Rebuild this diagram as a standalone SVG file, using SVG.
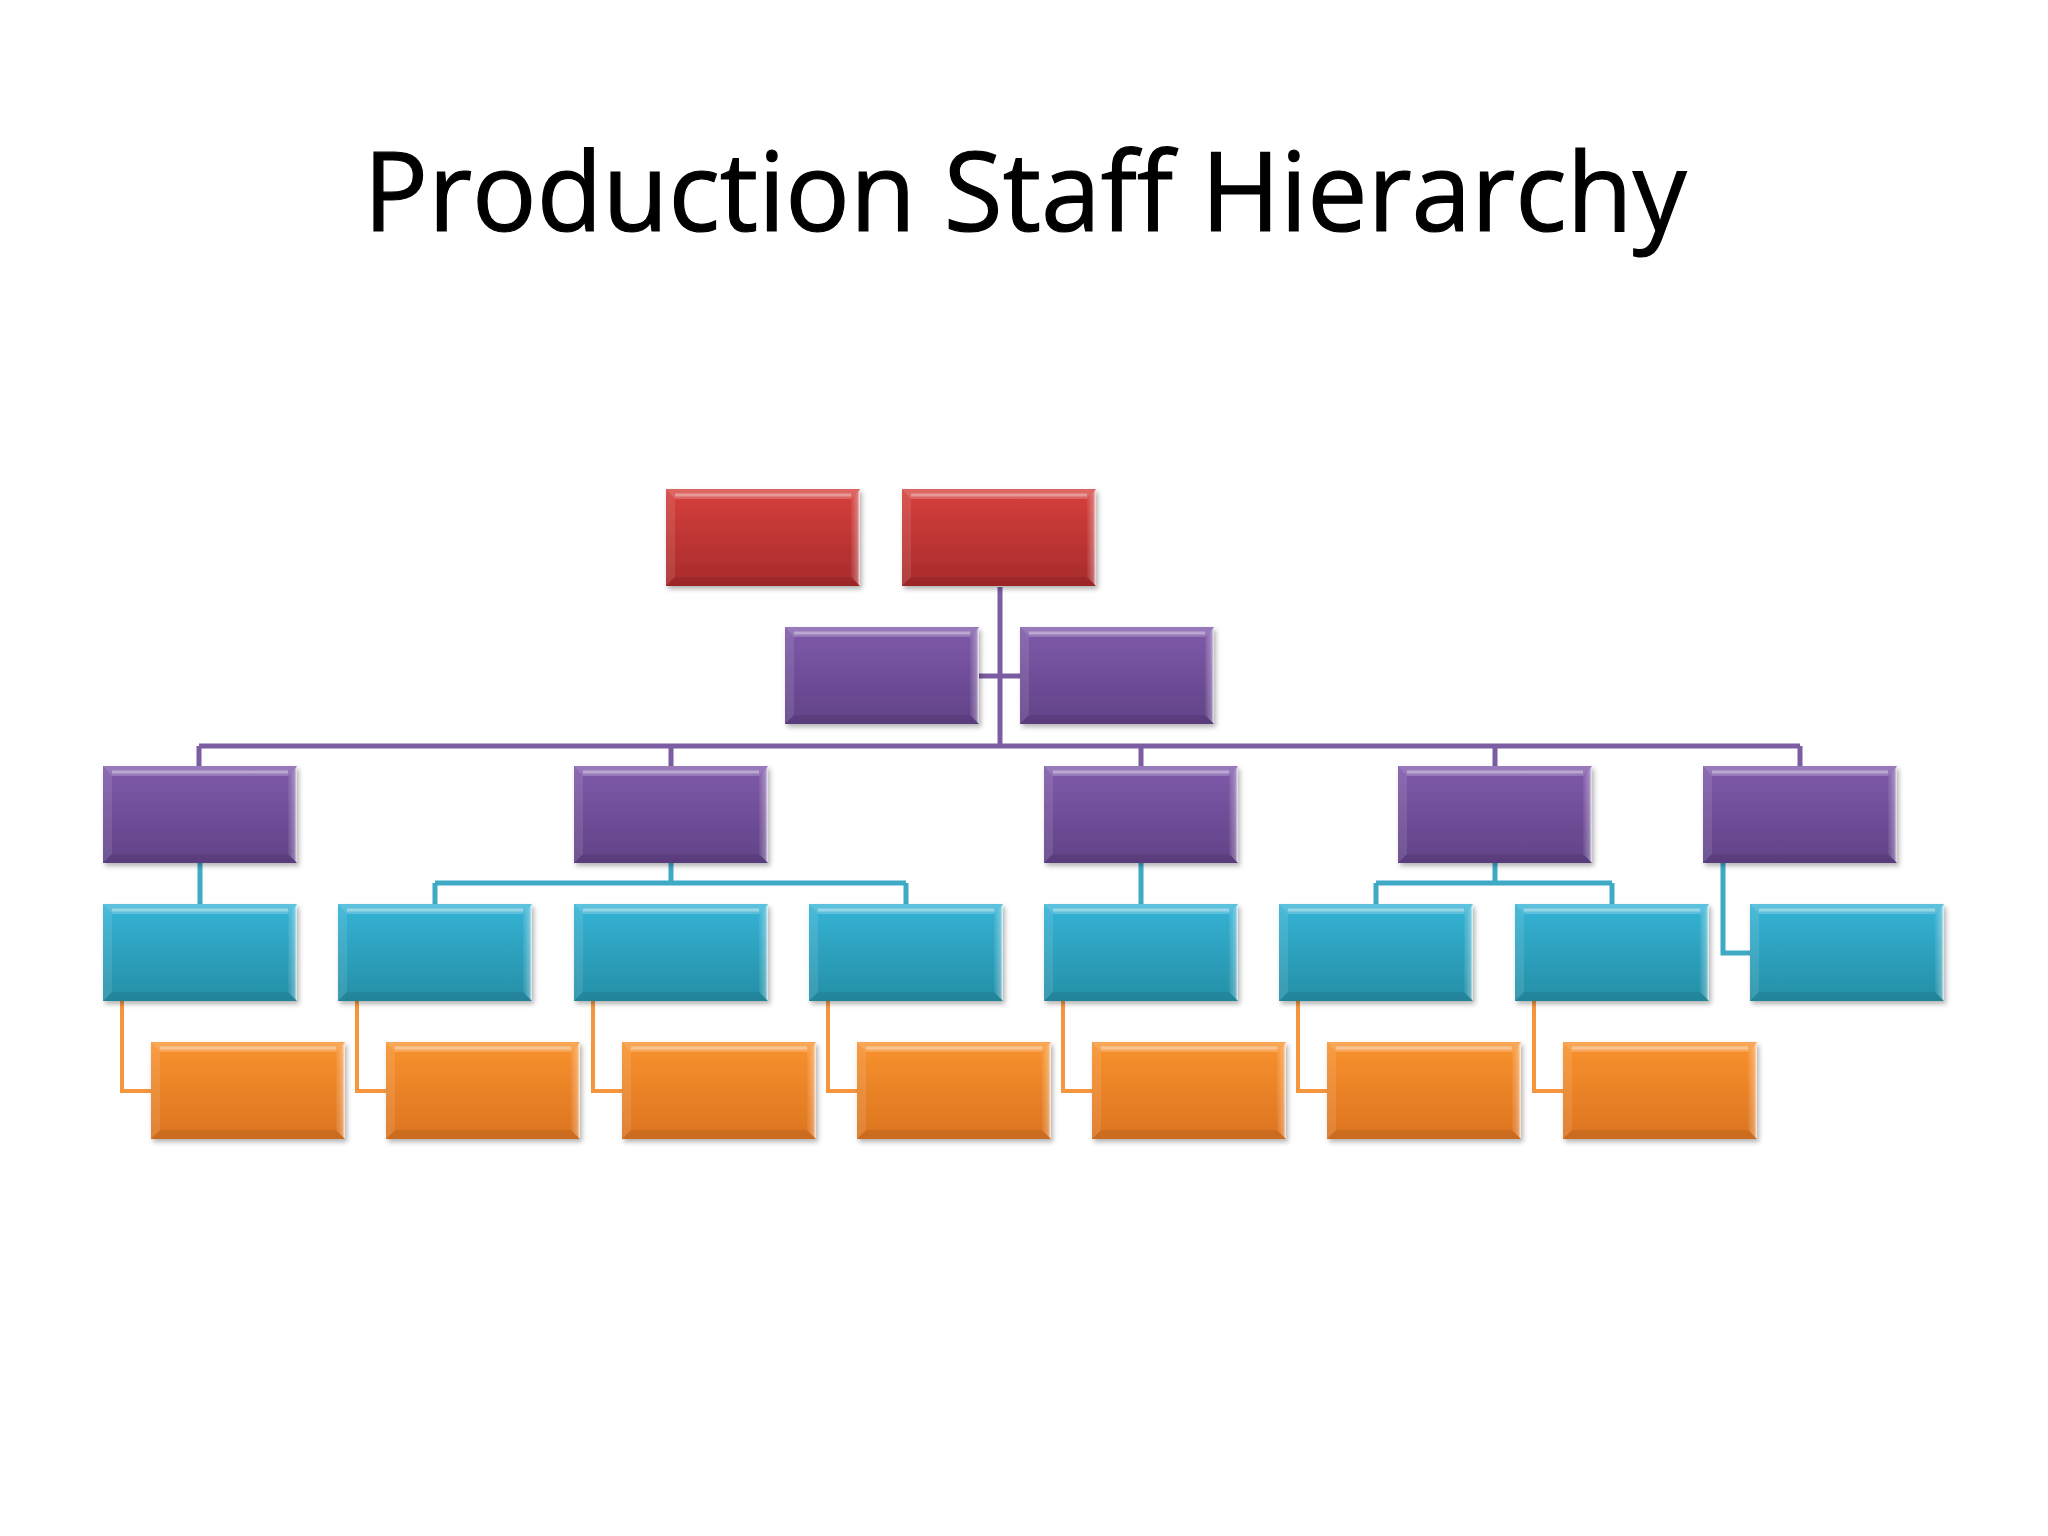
<svg xmlns="http://www.w3.org/2000/svg" xmlns:xlink="http://www.w3.org/1999/xlink" width="2048" height="1536" viewBox="0 0 2048 1536">
<style>
.title{font-family:"Open Sans","Liberation Sans",sans-serif;font-size:110px;fill:#000;stroke:#000;stroke-width:1.2}
.box{filter:url(#sh)}
.red{fill:url(#gRed)}
.pur{fill:url(#gPur)}
.cya{fill:url(#gCya)}
.ora{fill:url(#gOra)}
.lp{stroke:#7D5DA2;stroke-width:5;fill:none}
.lc{stroke:#3FAAC6;stroke-width:5;fill:none}
.lo{stroke:#F5963E;stroke-width:4;fill:none}
</style>
<defs>
<filter id="sh" x="-10%" y="-10%" width="125%" height="130%">
<feDropShadow dx="2" dy="3" stdDeviation="2.5" flood-color="#000" flood-opacity="0.3"/>
</filter>
<linearGradient id="gRed" x1="0" y1="0" x2="0" y2="1"><stop offset="0" stop-color="#D6403C"/><stop offset="1" stop-color="#A82B2C"/></linearGradient>
<linearGradient id="gPur" x1="0" y1="0" x2="0" y2="1"><stop offset="0" stop-color="#7F5AAA"/><stop offset="1" stop-color="#614287"/></linearGradient>
<linearGradient id="gCya" x1="0" y1="0" x2="0" y2="1"><stop offset="0" stop-color="#35B3D6"/><stop offset="1" stop-color="#258FA6"/></linearGradient>
<linearGradient id="gOra" x1="0" y1="0" x2="0" y2="1"><stop offset="0" stop-color="#F8922E"/><stop offset="1" stop-color="#DC7420"/></linearGradient>
<linearGradient id="gRight" x1="0" y1="0" x2="1" y2="0"><stop offset="0" stop-color="#fff" stop-opacity="0.05"/><stop offset="0.7" stop-color="#fff" stop-opacity="0.3"/><stop offset="1" stop-color="#fff" stop-opacity="0.9"/></linearGradient>
<g id="bevel">
<path d="M0,0 H194 L185,10 H9 Z" fill="#fff" opacity="0.2"/>
<path d="M9,6 H185" stroke="#fff" stroke-opacity="0.35" stroke-width="3"/>
<path d="M0,0 V97 L9,88 V10 Z" fill="#fff" opacity="0.1"/>
<path d="M0,97 H194 L185,88 H9 Z" fill="#000" opacity="0.08"/>
<path d="M194,0 V97 L185,88 V10 Z" fill="url(#gRight)"/>
</g>
</defs>
<rect width="2048" height="1536" fill="#fff"/>
<text class="title" x="1025" y="231" text-anchor="middle" textLength="1323" lengthAdjust="spacingAndGlyphs">Production Staff Hierarchy</text>

<g id="connectors">
<path class="lp" d="M1000,587 V746 M979,676 H1020 M199,746 H1800 M199,746 V766 M671,746 V766 M1141,746 V766 M1495,746 V766 M1800,746 V766"/>
<path class="lc" d="M200,863 V904 M671,863 V883 M435,883 H906 M435,883 V904 M906,883 V904 M1141,863 V904 M1495,863 V883 M1376,883 H1612 M1376,883 V904 M1612,883 V904 M1723,863 V953 H1750"/>
<path class="lo" d="M122,1001 V1091 H151 M357,1001 V1091 H386 M593,1001 V1091 H622 M828,1001 V1091 H857 M1063,1001 V1091 H1092 M1298,1001 V1091 H1327 M1534,1001 V1091 H1563"/>
</g>

<g id="red1" transform="translate(666,489)"><rect class="box red" width="194" height="97"/><use xlink:href="#bevel"/></g>
<g id="red2" transform="translate(902,489)"><rect class="box red" width="194" height="97"/><use xlink:href="#bevel"/></g>

<g id="asst1" transform="translate(785,627)"><rect class="box pur" width="194" height="97"/><use xlink:href="#bevel"/></g>
<g id="asst2" transform="translate(1020,627)"><rect class="box pur" width="194" height="97"/><use xlink:href="#bevel"/></g>

<g id="mgr1" transform="translate(103,766)"><rect class="box pur" width="194" height="97"/><use xlink:href="#bevel"/></g>
<g id="mgr2" transform="translate(574,766)"><rect class="box pur" width="194" height="97"/><use xlink:href="#bevel"/></g>
<g id="mgr3" transform="translate(1044,766)"><rect class="box pur" width="194" height="97"/><use xlink:href="#bevel"/></g>
<g id="mgr4" transform="translate(1398,766)"><rect class="box pur" width="194" height="97"/><use xlink:href="#bevel"/></g>
<g id="mgr5" transform="translate(1703,766)"><rect class="box pur" width="194" height="97"/><use xlink:href="#bevel"/></g>

<g id="staff1" transform="translate(103,904)"><rect class="box cya" width="194" height="97"/><use xlink:href="#bevel"/></g>
<g id="staff2" transform="translate(338,904)"><rect class="box cya" width="194" height="97"/><use xlink:href="#bevel"/></g>
<g id="staff3" transform="translate(574,904)"><rect class="box cya" width="194" height="97"/><use xlink:href="#bevel"/></g>
<g id="staff4" transform="translate(809,904)"><rect class="box cya" width="194" height="97"/><use xlink:href="#bevel"/></g>
<g id="staff5" transform="translate(1044,904)"><rect class="box cya" width="194" height="97"/><use xlink:href="#bevel"/></g>
<g id="staff6" transform="translate(1279,904)"><rect class="box cya" width="194" height="97"/><use xlink:href="#bevel"/></g>
<g id="staff7" transform="translate(1515,904)"><rect class="box cya" width="194" height="97"/><use xlink:href="#bevel"/></g>
<g id="staff8" transform="translate(1750,904)"><rect class="box cya" width="194" height="97"/><use xlink:href="#bevel"/></g>

<g id="crew1" transform="translate(151,1042)"><rect class="box ora" width="194" height="97"/><use xlink:href="#bevel"/></g>
<g id="crew2" transform="translate(386,1042)"><rect class="box ora" width="194" height="97"/><use xlink:href="#bevel"/></g>
<g id="crew3" transform="translate(622,1042)"><rect class="box ora" width="194" height="97"/><use xlink:href="#bevel"/></g>
<g id="crew4" transform="translate(857,1042)"><rect class="box ora" width="194" height="97"/><use xlink:href="#bevel"/></g>
<g id="crew5" transform="translate(1092,1042)"><rect class="box ora" width="194" height="97"/><use xlink:href="#bevel"/></g>
<g id="crew6" transform="translate(1327,1042)"><rect class="box ora" width="194" height="97"/><use xlink:href="#bevel"/></g>
<g id="crew7" transform="translate(1563,1042)"><rect class="box ora" width="194" height="97"/><use xlink:href="#bevel"/></g>
</svg>
